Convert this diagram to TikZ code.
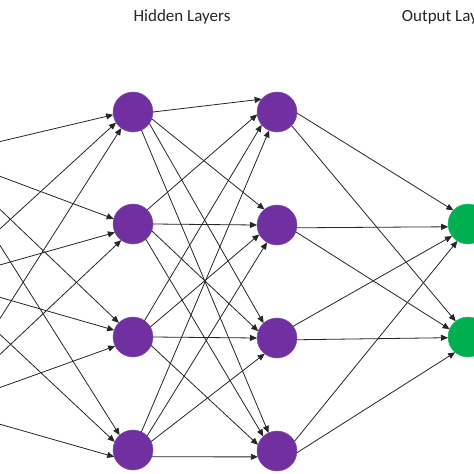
\documentclass[tikz,border=0pt]{standalone}
\usepackage{fontspec}
\setmainfont{Carlito}
\usetikzlibrary{arrows.meta}
\definecolor{hidcol}{HTML}{7030A0}
\definecolor{outcol}{HTML}{00B050}
\begin{document}
\begin{tikzpicture}[x=1pt,y=-1pt,
  hid/.style={circle,fill=hidcol,draw=hidcol!85!white,line width=0.5pt,minimum size=40pt,inner sep=0pt,outer sep=0pt},
  outn/.style={circle,fill=outcol,draw=outcol!85!white,line width=0.5pt,minimum size=40pt,inner sep=0pt,outer sep=0pt},
  conn/.style={draw=black!85,line width=0.8pt,-{Triangle[length=7pt,width=6pt]}},
  lbl/.style={font=\fontsize{17}{20}\selectfont,text=black!85,inner sep=0pt}]
\useasboundingbox (0,0) rectangle (474,474);
\clip (0,0) rectangle (474,474);
\fill[white] (0,0) rectangle (474,474);
% labels
\node[lbl,anchor=base] (hl) at (182,21.5) {Hidden Layers};
\node[lbl,anchor=base west] (ol) at (401.7,21.5) {Output Layer};
% input positions (outside the visible area)
\coordinate (i1) at (-57,155);
\coordinate (i2) at (-57,281);
\coordinate (i3) at (-57,408);
% hidden layer 1
\node[hid] (h11) at (133,112) {};
\node[hid] (h12) at (133,224) {};
\node[hid] (h13) at (133,337) {};
\node[hid] (h14) at (133,450) {};
% hidden layer 2
\node[hid] (h21) at (277,112) {};
\node[hid] (h22) at (277,225) {};
\node[hid] (h23) at (277,338) {};
\node[hid] (h24) at (277,451) {};
% output
\node[outn] (o1) at (468,224) {};
\node[outn] (o2) at (468,337) {};
% input -> hidden 1
\draw[conn] (i1) -- (h11.188);
\draw[conn] (i1) -- (h12.165);
\draw[conn] (i1) -- (h13.135);
\draw[conn] (i1) -- (h14.132);
\draw[conn] (i2) -- (h11.212);
\draw[conn] (i2) -- (h12.205);
\draw[conn] (i2) -- (h13.160);
\draw[conn] (i2) -- (h14.156);
\draw[conn] (i3) -- (h11.234);
\draw[conn] (i3) -- (h12.234);
\draw[conn] (i3) -- (h13.207);
\draw[conn] (i3) -- (h14.200);
% hidden 1 -> hidden 2
\draw[conn] (h11.0) -- (h21.140);
\draw[conn] (h11.-20) -- (h22.129);
\draw[conn] (h11.-35) -- (h23.132);
\draw[conn] (h11.-65) -- (h24.115);
\draw[conn] (h12.45) -- (h21.187);
\draw[conn] (h12.0) -- (h22.180);
\draw[conn] (h12.-20) -- (h23.160);
\draw[conn] (h12.-50) -- (h24.133);
\draw[conn] (h13.55) -- (h21.220);
\draw[conn] (h13.30) -- (h22.208);
\draw[conn] (h13.0) -- (h23.180);
\draw[conn] (h13.-25) -- (h24.162);
\draw[conn] (h14.65) -- (h21.247);
\draw[conn] (h14.45) -- (h22.240);
\draw[conn] (h14.25) -- (h23.232);
\draw[conn] (h14.-20) -- (h24.197);
% hidden 2 -> output
\draw[conn] (h21.-3) -- (o1.137);
\draw[conn] (h21.-43) -- (o2.128);
\draw[conn] (h22.-8) -- (o1.188);
\draw[conn] (h22.-20) -- (o2.157);
\draw[conn] (h23.36) -- (o1.217);
\draw[conn] (h23.-5) -- (o2.182);
\draw[conn] (h24.29) -- (o1.238);
\draw[conn] (h24.-5) -- (o2.230);
\end{tikzpicture}
\end{document}
